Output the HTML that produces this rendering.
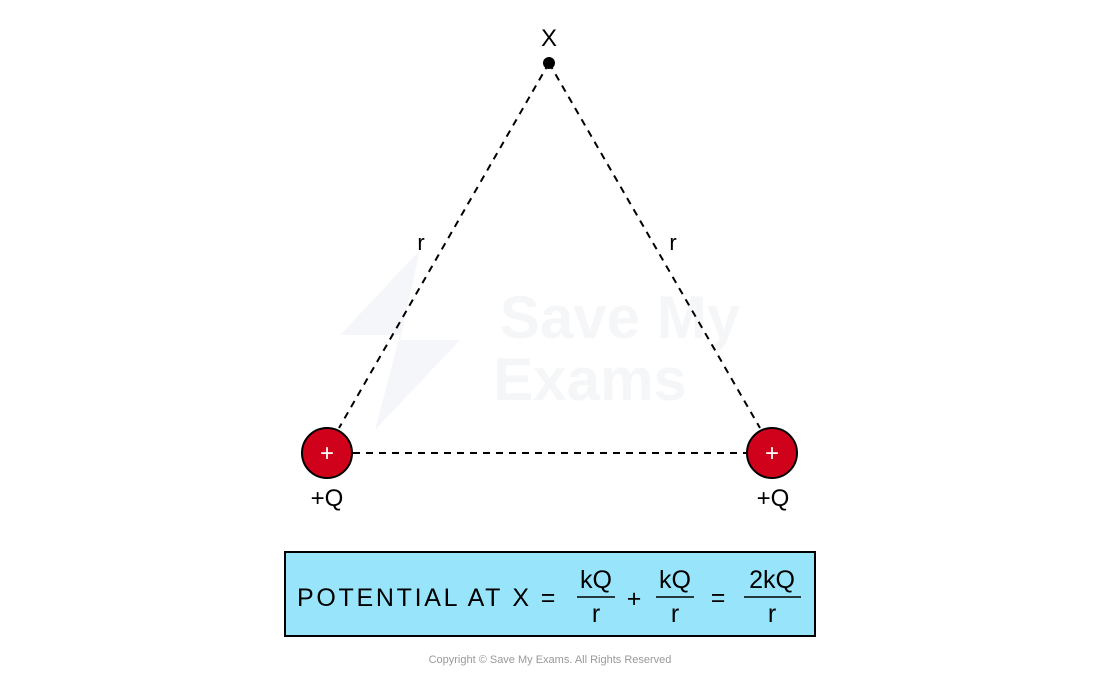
<!DOCTYPE html>
<html><head><style>body{margin:0;background:#fff}</style></head><body>
<svg width="1100" height="674" xmlns="http://www.w3.org/2000/svg" font-family="Liberation Sans, sans-serif">
<rect width="1100" height="674" fill="#fff"/>
<text x="620" y="338" font-size="60" font-weight="bold" fill="#f5f6f8" text-anchor="middle">Save My</text>
<text x="590" y="400" font-size="60" font-weight="bold" fill="#f5f6f8" text-anchor="middle">Exams</text>
<polygon points="420,250 340,335 400,335 375,430 460,340 400,340" fill="#f5f6fa"/>
<g stroke="#000" stroke-width="2" stroke-dasharray="7,6" fill="none">
<line x1="549" y1="63" x2="339" y2="428"/>
<line x1="549" y1="63" x2="760" y2="428"/>
<line x1="353" y1="453" x2="746" y2="453"/>
</g>
<circle cx="549" cy="63" r="6" fill="#000"/>
<text x="549" y="46" font-size="24" text-anchor="middle">X</text>
<text x="421" y="250" font-size="22" text-anchor="middle">r</text>
<text x="673" y="250" font-size="22" text-anchor="middle">r</text>
<circle cx="327" cy="453" r="25" fill="#d0021b" stroke="#000" stroke-width="2"/>
<circle cx="772" cy="453" r="25" fill="#d0021b" stroke="#000" stroke-width="2"/>
<text x="327" y="461" font-size="24" fill="#fff" text-anchor="middle">+</text>
<text x="772" y="461" font-size="24" fill="#fff" text-anchor="middle">+</text>
<text x="327" y="506" font-size="24" text-anchor="middle">+Q</text>
<text x="773" y="506" font-size="24" text-anchor="middle">+Q</text>
<rect x="285" y="552" width="530" height="84" fill="#98e5fb" stroke="#000" stroke-width="2"/>
<g font-size="25">
<text x="297" y="606" textLength="232" lengthAdjust="spacing">POTENTIAL AT X</text>
<text x="548" y="606" text-anchor="middle">=</text>
<text x="596" y="588" text-anchor="middle">kQ</text><line x1="577" y1="597" x2="615" y2="597" stroke="#000" stroke-width="1.5"/><text x="596" y="622" text-anchor="middle">r</text>
<text x="634" y="607" text-anchor="middle">+</text>
<text x="675" y="588" text-anchor="middle">kQ</text><line x1="656" y1="597" x2="694" y2="597" stroke="#000" stroke-width="1.5"/><text x="675" y="622" text-anchor="middle">r</text>
<text x="718" y="606" text-anchor="middle">=</text>
<text x="772" y="588" text-anchor="middle">2kQ</text><line x1="744" y1="597" x2="801" y2="597" stroke="#000" stroke-width="1.5"/><text x="772" y="622" text-anchor="middle">r</text>
</g>
<text x="550" y="663" font-size="11" fill="#999" text-anchor="middle">Copyright © Save My Exams. All Rights Reserved</text>
</svg>
</body></html>
